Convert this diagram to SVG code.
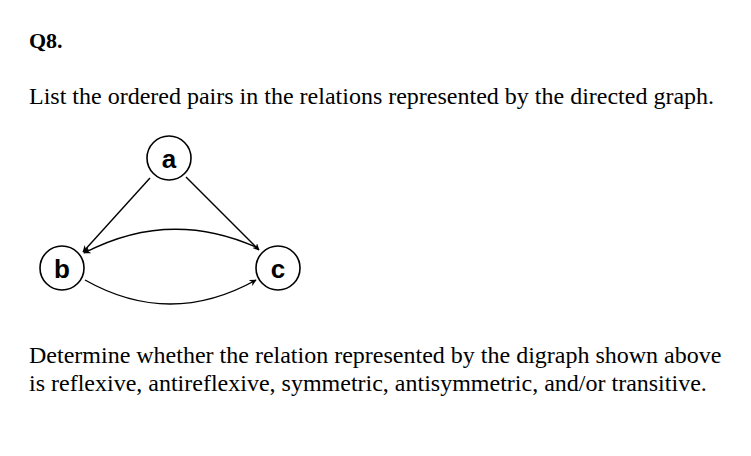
<svg xmlns="http://www.w3.org/2000/svg" width="751" height="456" viewBox="0 0 751 456">
<style>
.t{font-family:"Liberation Serif",serif;font-size:24px;fill:#000}
.n circle{fill:#fff;stroke:#000;stroke-width:1.6}
.n text{font-family:"Liberation Sans",Arial,sans-serif;font-weight:bold;font-size:26px;text-anchor:middle}
.e path{fill:none;stroke:#000;stroke-width:1.4;marker-end:url(#ar)}
</style>
<defs><marker id="ar" viewBox="0 0 10 10" refX="9" refY="5" markerWidth="7" markerHeight="7" orient="auto" markerUnits="userSpaceOnUse"><path d="M0,0L10,5L0,10L3,5z" fill="#000"/></marker></defs>
<rect width="751" height="456" fill="#fff"/>
<text x="29" y="48" class="t" style="font-weight:bold;font-size:22px">Q8.</text>
<text x="29" y="104" class="t">List the ordered pairs in the relations represented by the directed graph.</text>
<text x="29" y="363" class="t">Determine whether the relation represented by the digraph shown above</text>
<text x="29" y="391" class="t">is reflexive, antireflexive, symmetric, antisymmetric, and/or transitive.</text>
<g class="e" id="edges">
<path d="M150,178L83,252"/>
<path d="M186,177L259,250"/>
<path d="M258,248Q170,208 84,253"/>
<path d="M85,280Q170,328 256,280"/>
</g>
<g class="n" id="a"><circle cx="169" cy="158" r="22"/><text x="169" y="168">a</text></g>
<g class="n" id="b"><circle cx="62" cy="268" r="22"/><text x="62" y="278">b</text></g>
<g class="n" id="c"><circle cx="278" cy="268" r="22"/><text x="278" y="278">c</text></g>
</svg>
